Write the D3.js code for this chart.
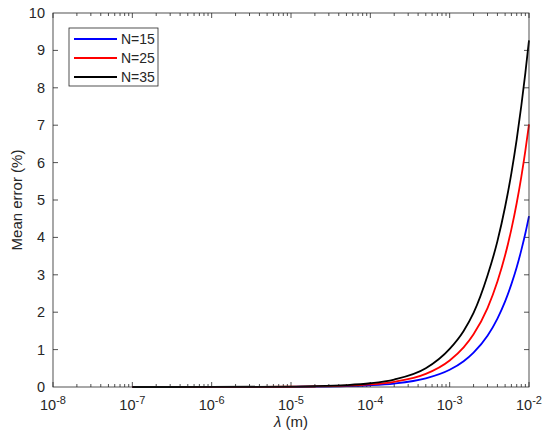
<!DOCTYPE html>
<html>
<head>
<meta charset="utf-8">
<script src="https://cdn.jsdelivr.net/npm/d3@7"></script>
<style>
  body { margin: 0; background: #fff; }
  text { font-family: Arial, "Liberation Sans", sans-serif; fill: #262626; }
</style>
</head>
<body>
<div id="chart"></div>
<script>
const width = 550;
const height = 448;
const margin = {top: 13, right: 21, bottom: 61, left: 53};

// wavelength (m)
const lambdas = [1e-7, 1e-6, 1e-5, 2e-5, 5e-5, 1e-4, 2e-4, 5e-4, 1e-3, 1.5e-3, 2e-3, 3e-3, 4e-3, 5e-3, 6e-3, 7e-3, 8e-3, 9e-3, 1e-2];
const errN15 = [0, 0.0005, 0.005, 0.009, 0.023, 0.046, 0.092, 0.23, 0.46, 0.69, 0.92, 1.37, 1.83, 2.29, 2.75, 3.20, 3.66, 4.11, 4.57];
const errN25 = [0, 0.0007, 0.007, 0.014, 0.035, 0.07, 0.14, 0.35, 0.71, 1.06, 1.41, 2.11, 2.82, 3.52, 4.22, 4.92, 5.62, 6.32, 7.02];
const errN35 = [0, 0.001, 0.01, 0.02, 0.05, 0.10, 0.20, 0.50, 1.02, 1.50, 1.98, 2.98, 3.90, 4.82, 5.72, 6.62, 7.52, 8.40, 9.27];
const seriesNames = ["N=15", "N=25", "N=35"];
const seriesColors = ["#0000ff", "#ff0000", "#000000"];
const xTickExps = [-8, -7, -6, -5, -4, -3, -2];
const yTicks = [0, 1, 2, 3, 4, 5, 6, 7, 8, 9, 10];

const series = [errN15, errN25, errN35].map((vals, i) => ({
    name: seriesNames[i],
    color: seriesColors[i],
    points: vals.map((v, j) => ({x: lambdas[j], y: v}))
}));

const svg = d3.select("#chart").append("svg")
    .attr("width", width)
    .attr("height", height);

const x = d3.scaleLog()
    .domain([1e-8, 1e-2])
    .range([margin.left, width - margin.right]);

const y = d3.scaleLinear()
    .domain([0, 10])
    .range([height - margin.bottom, margin.top]);

const axisColor = "#262626";
const majorLen = 5, minorLen = 3;

// minor ticks for log x axis
let minorTicks = [];
for (let e = -8; e < -2; e++) {
    for (let k = 2; k <= 9; k++) minorTicks.push(k * Math.pow(10, e));
}

const xBottom = svg.append("g")
    .attr("transform", `translate(0,${y(0)})`);
const xTop = svg.append("g")
    .attr("transform", `translate(0,${y(10)})`);

[[xBottom, -1], [xTop, 1]].forEach(([g, dir]) => {
    g.selectAll(".minor").data(minorTicks).enter().append("line")
        .attr("x1", d => x(d)).attr("x2", d => x(d))
        .attr("y1", 0).attr("y2", dir * minorLen)
        .attr("stroke", axisColor).attr("stroke-width", 0.8);
    g.selectAll(".major").data(xTickExps).enter().append("line")
        .attr("x1", d => x(Math.pow(10, d))).attr("x2", d => x(Math.pow(10, d)))
        .attr("y1", 0).attr("y2", dir * majorLen)
        .attr("stroke", axisColor).attr("stroke-width", 0.8);
});

// x tick labels 10^n
const xLabels = xBottom.selectAll(".xl").data(xTickExps).enter().append("text")
    .attr("x", d => x(Math.pow(10, d)))
    .attr("y", 23)
    .attr("text-anchor", "middle")
    .style("font-size", "14.5px");
xLabels.append("tspan").text("10");
xLabels.append("tspan")
    .attr("dy", -6)
    .style("font-size", "11px")
    .text(d => (d < 0 ? "-" : "") + Math.abs(d));

// y ticks left and right
[[margin.left, 1], [width - margin.right, -1]].forEach(([px, dir]) => {
    svg.append("g").selectAll("line").data(yTicks.slice(1, -1)).enter().append("line")
        .attr("x1", px).attr("x2", px + dir * majorLen)
        .attr("y1", d => y(d)).attr("y2", d => y(d))
        .attr("stroke", axisColor).attr("stroke-width", 0.8);
});

svg.append("g").selectAll("text").data(yTicks).enter().append("text")
    .attr("x", margin.left - 8)
    .attr("y", d => y(d))
    .attr("dy", "0.35em")
    .attr("text-anchor", "end")
    .style("font-size", "14.5px")
    .text(d => d);

// curves
const line = d3.line()
    .x(d => x(d.x))
    .y(d => y(d.y))
    .curve(d3.curveMonotoneX);

svg.append("g").selectAll("path").data(series).enter().append("path")
    .attr("d", d => line(d.points))
    .attr("fill", "none")
    .attr("stroke", d => d.color)
    .attr("stroke-width", 1.8);

// box
svg.append("rect")
    .attr("x", margin.left)
    .attr("y", margin.top)
    .attr("width", width - margin.left - margin.right)
    .attr("height", height - margin.top - margin.bottom)
    .attr("fill", "none")
    .attr("stroke", axisColor)
    .attr("stroke-width", 0.8);

// axis titles
const xTitle = svg.append("text")
    .attr("x", (margin.left + width - margin.right) / 2)
    .attr("y", height - 21)
    .attr("text-anchor", "middle")
    .style("font-size", "15px");
xTitle.append("tspan").style("font-style", "italic").text("λ");
xTitle.append("tspan").text(" (m)");

svg.append("text")
    .attr("transform", `translate(22,${(margin.top + height - margin.bottom) / 2}) rotate(-90)`)
    .attr("text-anchor", "middle")
    .style("font-size", "15px")
    .text("Mean error (%)");

// legend
const legend = svg.append("g").attr("transform", "translate(69,28)");
legend.append("rect")
    .attr("width", 89).attr("height", 58)
    .attr("fill", "#fff")
    .attr("stroke", axisColor)
    .attr("stroke-width", 0.8);
const items = legend.selectAll(".item").data(series).enter().append("g")
    .attr("transform", (d, i) => `translate(0,${11 + i * 19})`);
items.append("line")
    .attr("x1", 5).attr("x2", 48)
    .attr("stroke", d => d.color)
    .attr("stroke-width", 1.8);
items.append("text")
    .attr("x", 52)
    .attr("dy", "0.35em")
    .style("font-size", "14px")
    .text(d => d.name);
</script>
</body>
</html>
